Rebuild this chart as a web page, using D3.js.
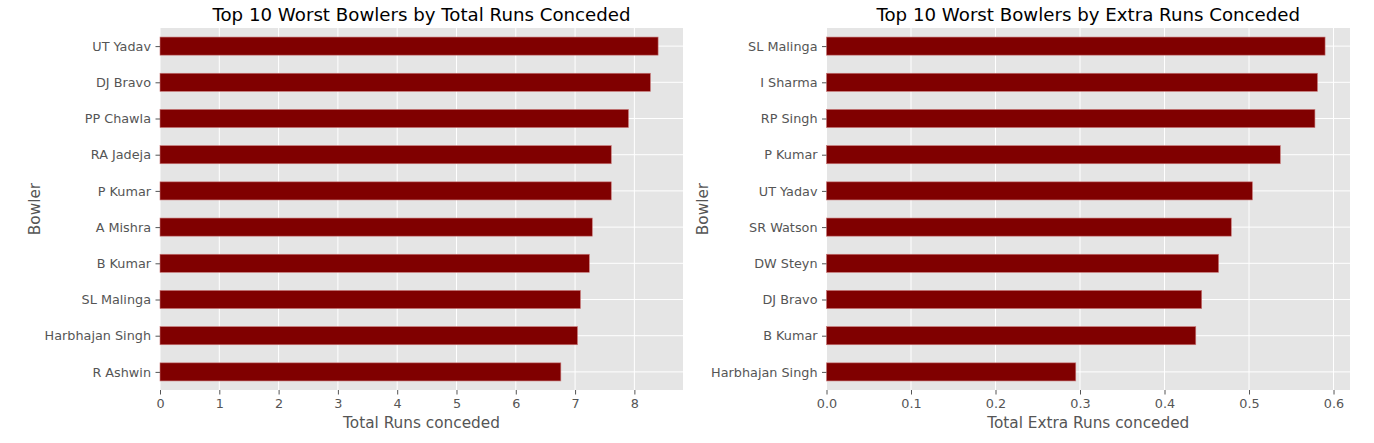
<!DOCTYPE html>
<html>
<head>
<meta charset="utf-8">
<script src="https://cdn.jsdelivr.net/npm/d3@7"></script>
<style>
  body { margin: 0; background: #fff; }
  svg text { font-family: "DejaVu Sans", sans-serif; }
</style>
</head>
<body>
<svg id="chart" width="1374" height="443"></svg>
<script>
// left panel data
const runsBowlers = ["UT Yadav", "DJ Bravo", "PP Chawla", "RA Jadeja", "P Kumar", "A Mishra", "B Kumar", "SL Malinga", "Harbhajan Singh", "R Ashwin"];
const runsValues = [8.40, 8.27, 7.90, 7.61, 7.61, 7.29, 7.24, 7.09, 7.04, 6.76];
const runsTicks = [0, 1, 2, 3, 4, 5, 6, 7, 8];

// right panel data
const extraBowlers = ["SL Malinga", "I Sharma", "RP Singh", "P Kumar", "UT Yadav", "SR Watson", "DW Steyn", "DJ Bravo", "B Kumar", "Harbhajan Singh"];
const extraValues = [0.590, 0.581, 0.578, 0.537, 0.504, 0.479, 0.464, 0.444, 0.437, 0.295];
const extraTicks = [0, 0.1, 0.2, 0.3, 0.4, 0.5, 0.6];

const svg = d3.select("#chart");

function drawPanel(opts) {
    const { left, right, top, bottom, names, values, ticks, fmt, title, xLabel } = opts;
    const g = svg.append("g");

    const x = d3.scaleLinear()
        .domain([0, d3.max(values) * 1.05])
        .range([left, right]);

    // matplotlib style: categories at 0..n-1, limits -0.5..n-0.5
    const y = d3.scaleLinear()
        .domain([-0.5, names.length - 0.5])
        .range([top, bottom]);

    g.append("rect")
        .attr("x", left).attr("y", top)
        .attr("width", right - left).attr("height", bottom - top)
        .attr("fill", "#E5E5E5");

    // grid
    g.append("g").selectAll("line")
        .data(ticks)
        .join("line")
        .attr("x1", d => x(d)).attr("x2", d => x(d))
        .attr("y1", top).attr("y2", bottom)
        .attr("stroke", "white").attr("stroke-width", 1);

    g.append("g").selectAll("line")
        .data(names)
        .join("line")
        .attr("x1", left).attr("x2", right)
        .attr("y1", (d, i) => y(i)).attr("y2", (d, i) => y(i))
        .attr("stroke", "white").attr("stroke-width", 1);

    // bars
    const bh = y(0.25) - y(-0.25);
    g.append("g").selectAll("rect")
        .data(values)
        .join("rect")
        .attr("x", x(0))
        .attr("y", (d, i) => y(i) - bh / 2)
        .attr("width", d => x(d) - x(0))
        .attr("height", bh)
        .attr("fill", "#800000")
        .attr("stroke", "#C87878")
        .attr("stroke-width", 0.6);

    // x axis
    const xAxis = d3.axisBottom(x)
        .tickValues(ticks)
        .tickFormat(fmt)
        .tickSize(4.5)
        .tickPadding(4.5);
    const gx = g.append("g")
        .attr("transform", `translate(0,${bottom})`)
        .call(xAxis);
    gx.select(".domain").remove();
    gx.selectAll("line").attr("stroke", "#555555").attr("stroke-width", 1);
    gx.selectAll("text")
        .attr("fill", "#555555")
        .attr("font-size", "12.8px")
        .attr("font-family", "DejaVu Sans, sans-serif");

    // y axis
    const yAxis = d3.axisLeft(y)
        .tickValues(d3.range(names.length))
        .tickFormat(i => names[i])
        .tickSize(4.5)
        .tickPadding(4.5);
    const gy = g.append("g")
        .attr("transform", `translate(${left},0)`)
        .call(yAxis);
    gy.select(".domain").remove();
    gy.selectAll("line").attr("stroke", "#555555").attr("stroke-width", 1);
    gy.selectAll("text")
        .attr("fill", "#555555")
        .attr("font-size", "12.8px")
        .attr("font-family", "DejaVu Sans, sans-serif");

    g.append("text")
        .attr("x", (left + right) / 2)
        .attr("y", top - 7.5)
        .attr("text-anchor", "middle")
        .attr("font-size", "18.2px")
        .attr("fill", "#000")
        .text(title);

    g.append("text")
        .attr("x", (left + right) / 2)
        .attr("y", 428)
        .attr("text-anchor", "middle")
        .attr("font-size", "15.3px")
        .attr("fill", "#555555")
        .text(xLabel);

    g.append("text")
        .attr("transform", `translate(${opts.yLabelX},${(top + bottom) / 2}) rotate(-90)`)
        .attr("text-anchor", "middle")
        .attr("font-size", "15.3px")
        .attr("fill", "#555555")
        .text("Bowler");
}

drawPanel({
    left: 160, right: 683, top: 28, bottom: 390,
    names: runsBowlers, values: runsValues, ticks: runsTicks,
    fmt: d3.format("d"),
    title: "Top 10 Worst Bowlers by Total Runs Conceded",
    xLabel: "Total Runs conceded",
    yLabelX: 40
});

drawPanel({
    left: 826.5, right: 1350, top: 28, bottom: 390,
    names: extraBowlers, values: extraValues, ticks: extraTicks,
    fmt: d3.format(".1f"),
    title: "Top 10 Worst Bowlers by Extra Runs Conceded",
    xLabel: "Total Extra Runs conceded",
    yLabelX: 708
});
</script>
</body>
</html>
